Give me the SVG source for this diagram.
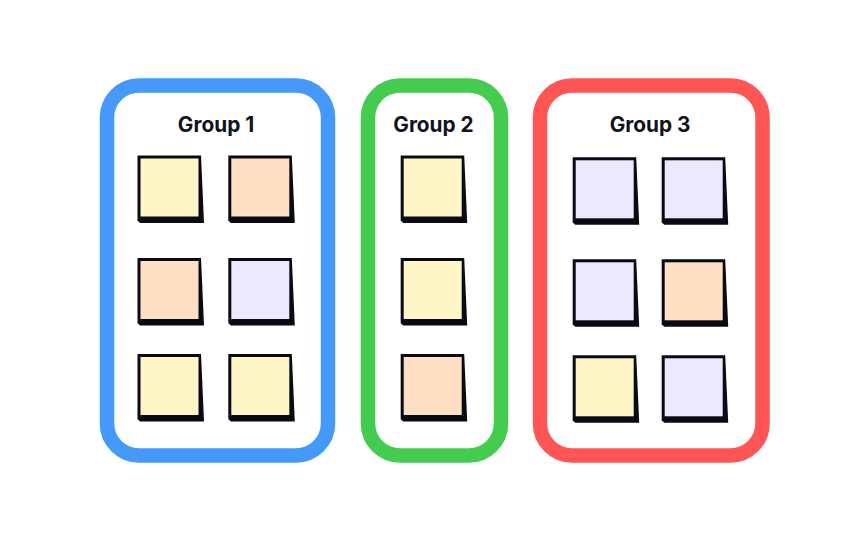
<svg xmlns="http://www.w3.org/2000/svg" xmlns:xlink="http://www.w3.org/1999/xlink" width="864" height="540" viewBox="0 0 864 540">
<style>
.frame{fill:#ffffff;stroke-width:14.5}
.blue{stroke:#4499FB}
.green{stroke:#44CC4E}
.red{stroke:#FF5555}
.title{font-family:Inter,"Liberation Sans",sans-serif;font-weight:700;font-size:20.8px;fill:#12121c;text-anchor:middle}
.edge{fill:#0a0a14}
.yellow{fill:#FEF6C6}
.peach{fill:#FFDFC4}
.lav{fill:#ECE8FF}
</style>
<defs>
<path id="noteEdge" class="edge" d="M0,0 L63.5,0 L66.5,67.5 L2.5,67.5 L0,65 Z"/>
</defs>
<rect width="864" height="540" fill="#ffffff"/>
<g id="group1">
<rect class="frame blue" x="107" y="85.5" width="221" height="370" rx="32"/>
<text class="title" x="216" y="132">Group 1</text>
</g>
<g id="group2">
<rect class="frame green" x="368" y="85.5" width="133" height="370" rx="32"/>
<text class="title" x="433.5" y="132">Group 2</text>
</g>
<g id="group3">
<rect class="frame red" x="540" y="85.5" width="222.5" height="370" rx="32"/>
<text class="title" x="650" y="132">Group 3</text>
</g>
<g id="g1-n1" transform="translate(137.5,155.5)"><use xlink:href="#noteEdge"/><rect class="yellow" x="3" y="3" width="58" height="58"/></g>
<g id="g1-n2" transform="translate(228.3,155.5)"><use xlink:href="#noteEdge"/><rect class="peach" x="3" y="3" width="58" height="58"/></g>
<g id="g1-n3" transform="translate(137.5,258)"><use xlink:href="#noteEdge"/><rect class="peach" x="3" y="3" width="58" height="58"/></g>
<g id="g1-n4" transform="translate(228.3,258)"><use xlink:href="#noteEdge"/><rect class="lav" x="3" y="3" width="58" height="58"/></g>
<g id="g1-n5" transform="translate(137.5,354)"><use xlink:href="#noteEdge"/><rect class="yellow" x="3" y="3" width="58" height="58"/></g>
<g id="g1-n6" transform="translate(228.3,354)"><use xlink:href="#noteEdge"/><rect class="yellow" x="3" y="3" width="58" height="58"/></g>
<g id="g2-n1" transform="translate(400.7,155.5)"><use xlink:href="#noteEdge"/><rect class="yellow" x="3" y="3" width="58" height="58"/></g>
<g id="g2-n2" transform="translate(400.7,258)"><use xlink:href="#noteEdge"/><rect class="yellow" x="3" y="3" width="58" height="58"/></g>
<g id="g2-n3" transform="translate(400.7,354)"><use xlink:href="#noteEdge"/><rect class="peach" x="3" y="3" width="58" height="58"/></g>
<g id="g3-n1" transform="translate(572.7,157.3)"><use xlink:href="#noteEdge"/><rect class="lav" x="3" y="3" width="58" height="58"/></g>
<g id="g3-n2" transform="translate(661.7,157.3)"><use xlink:href="#noteEdge"/><rect class="lav" x="3" y="3" width="58" height="58"/></g>
<g id="g3-n3" transform="translate(572.7,259.3)"><use xlink:href="#noteEdge"/><rect class="lav" x="3" y="3" width="58" height="58"/></g>
<g id="g3-n4" transform="translate(661.7,259.3)"><use xlink:href="#noteEdge"/><rect class="peach" x="3" y="3" width="58" height="58"/></g>
<g id="g3-n5" transform="translate(572.7,355.3)"><use xlink:href="#noteEdge"/><rect class="yellow" x="3" y="3" width="58" height="58"/></g>
<g id="g3-n6" transform="translate(661.7,355.3)"><use xlink:href="#noteEdge"/><rect class="lav" x="3" y="3" width="58" height="58"/></g>
<g id="connectors"></g>
</svg>
